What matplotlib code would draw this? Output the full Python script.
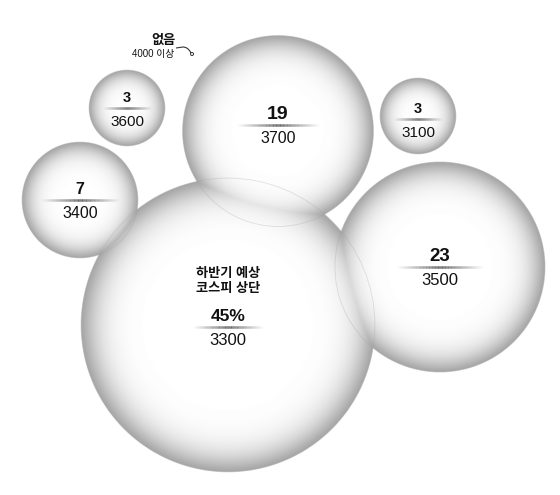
import numpy as np
import matplotlib
matplotlib.use('Agg')
import matplotlib.pyplot as plt
from matplotlib.collections import LineCollection
from matplotlib.path import Path
from matplotlib.patches import PathPatch, Circle

plt.rcParams['font.family'] = ['Liberation Sans', 'Noto Sans CJK KR', 'DejaVu Sans']

# ---- data ----
levels = ['3300', '3500', '3700', '3400', '3600', '3100']
shares = [45, 23, 19, 7, 3, 3]
share_labels = ['45%', '23', '19', '7', '3', '3']
title_lines = ['하반기 예상', '코스피 상단']
none_label = '없음'
none_level = '4000 이상'

# ---- layout (packed bubble positions, pixel space) ----
centers = [(228, 325), (440, 267), (278, 131), (80, 200), (127, 108), (418, 116)]
rule_y = [327, 267, 125, 200, 108, 119]
rule_half = [36, 44, 42, 40, 25, 25]
num_size = [12.5, 13.5, 14, 11.5, 10.5, 10.5]
lvl_size = [12, 12, 11.5, 11.5, 11, 11]
px_per_sqrt = 21.9

W, H = 560, 495
fig = plt.figure(figsize=(W / 100, H / 100), dpi=100)
ax = fig.add_axes([0, 0, 1, 1])

radii = [px_per_sqrt * np.sqrt(s) for s in shares]

# shaded spheres, combined with a "lighten" blend where they overlap
ss = 3
gx = (np.arange(W * ss) + 0.5) / ss
gy = (np.arange(H * ss) + 0.5) / ss
X, Y = np.meshgrid(gx, gy)
dark = np.full(X.shape, np.inf)
cover = np.zeros(X.shape)
for (cx, cy), r in zip(centers, radii):
    d = np.hypot(X - cx, Y - cy)
    c = np.clip((r - d) * ss + 0.5, 0, 1)
    depth = np.clip(r - d, 0, None)
    w = 1.6 * np.sqrt(r)
    val = 0.35 * np.exp(-(depth / w) ** 1.3)
    inside = c > 0
    dark = np.where(inside, np.minimum(dark, val), dark)
    cover = np.maximum(cover, c)
dark = np.where(np.isfinite(dark), dark, 0.0)
gray = 1 - cover * dark
ax.imshow(gray, cmap='gray', vmin=0, vmax=1, extent=(0, W, H, 0),
          interpolation='antialiased', aspect='auto', zorder=1)

for (cx, cy), r in zip(centers, radii):
    ax.add_patch(Circle((cx, cy), r, fill=False, ec='#a0a0a0', lw=0.6,
                        alpha=0.3, zorder=2))


def rule(cx, y, h):
    m = 60
    xs = np.linspace(cx - h, cx + h, m + 1)
    segs = [[(xs[i], y), (xs[i + 1], y)] for i in range(m)]
    t = np.linspace(-1, 1, m)
    a = np.clip(1 - np.abs(t), 0, 1) ** 1.1 * 0.9
    cols = [(0.3, 0.3, 0.3, ai) for ai in a]
    ax.add_collection(LineCollection(segs, colors=cols, linewidths=1.8, zorder=3))


for i, s in enumerate(shares):
    cx, cy = centers[i]
    ry = rule_y[i]
    rule(cx, ry, rule_half[i])
    ax.text(cx, ry - 6, share_labels[i], ha='center', va='baseline',
            fontsize=num_size[i], fontweight='bold', color='#111111', zorder=4)
    ax.text(cx, ry + 18, levels[i], ha='center', va='baseline',
            fontsize=lvl_size[i], color='#111111', zorder=4)
    if i == 0:
        ax.text(cx, ry - 50, title_lines[0], ha='center', va='baseline',
                fontsize=9.5, fontweight='bold', color='#111111', zorder=4)
        ax.text(cx, ry - 35, title_lines[1], ha='center', va='baseline',
                fontsize=9.5, fontweight='bold', color='#111111', zorder=4)

# "none" annotation for 4000+
ax.text(163, 44, none_label, ha='center', va='baseline', fontsize=9.5,
        fontweight='bold', color='#111111', zorder=4)
ax.text(153, 57, none_level, ha='center', va='baseline', fontsize=7,
        color='#111111', zorder=4)
hook = Path([(176, 48), (183, 47), (188, 47), (191, 53)],
            [Path.MOVETO, Path.LINETO, Path.CURVE3, Path.CURVE3])
ax.add_patch(PathPatch(hook, fill=False, ec='#333333', lw=0.8, zorder=4))
ax.add_patch(Circle((192, 54), 1.5, fill=False, ec='#333333', lw=0.7, zorder=4))

ax.set_xlim(0, W)
ax.set_ylim(H, 0)
ax.axis('off')
fig.savefig('out.png', dpi=100, facecolor='white')
